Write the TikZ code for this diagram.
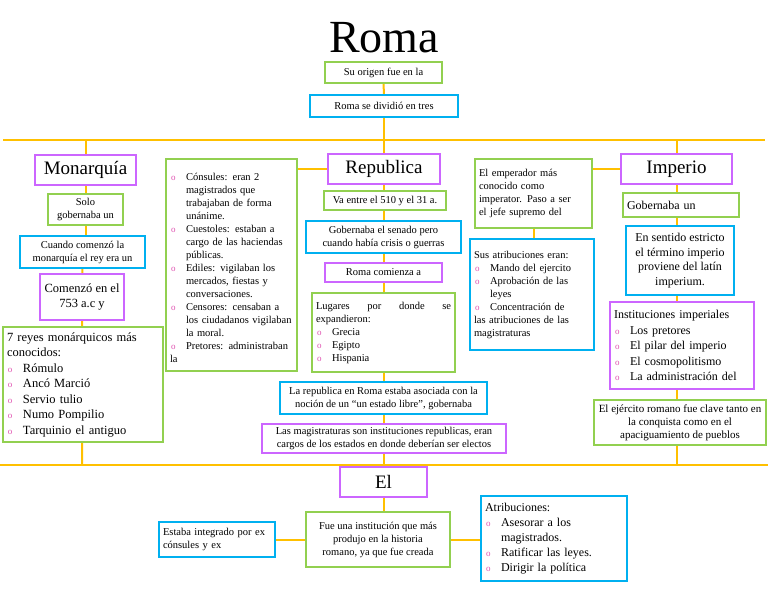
\documentclass[tikz,border=0pt]{standalone}
\usepackage{fontspec}
\usetikzlibrary{backgrounds}
\setmainfont{Liberation Serif}
\definecolor{cg}{HTML}{92D050}
\definecolor{cc}{HTML}{00B0F0}
\definecolor{cp}{HTML}{CC66FF}
\definecolor{co}{HTML}{FFC000}
\definecolor{bul}{HTML}{E050B0}
\newcommand\bitem[1]{\par\noindent\hangindent=16pt\hangafter=1\makebox[16pt][l]{\hspace{1pt}\textcolor{bul}{\fontsize{9}{9}\selectfont o}}#1}
\hyphenpenalty=10000 \exhyphenpenalty=10000
\begin{document}
\begin{tikzpicture}[x=1pt,y=-1pt,
 bx/.style={draw=#1,fill=white,line width=1.5pt,inner sep=3pt,align=center,font=\fontsize{10.5}{13}\selectfont},
 big/.style={font=\fontsize{19}{22}\selectfont},
 ln/.style={draw=co,line width=2pt}]
\useasboundingbox (0,0) rectangle (768,594);
\node (title) at (384,38) {\fontsize{46}{50}\selectfont Roma};
\node[bx=cg,minimum width=117,minimum height=21] (t1) at (383.5,72.5) {Su origen fue en la};
\node[bx=cc,minimum width=148,minimum height=22] (t2) at (384,106) {Roma se dividió en tres};
% Monarquia column
\node[bx=cp,big,minimum width=101,minimum height=30] (mon) at (85.5,170) {Monarquía};
\node[bx=cg,minimum width=75,minimum height=31] (solo) at (85.5,209.5) {Solo\\gobernaba un};
\node[bx=cc,minimum width=125,minimum height=32] (cuando) at (82.5,252) {Cuando comenzó la\\monarquía el rey era un};
\node[bx=cp,minimum width=84,minimum height=46,font=\fontsize{12.5}{15}\selectfont] (comenzo) at (82,297) {Comenzó en el\\753 a.c y};
\node[bx=cg,minimum width=160,minimum height=115,text width=152,align=left,font=\fontsize{12.5}{15.5}\selectfont] (reyes) at (83,384.5) {\raggedright 7 reyes monárquicos más conocidos:
\bitem{Rómulo}\bitem{Ancó Marció}\bitem{Servio tulio}\bitem{Numo Pompilio}\bitem{Tarquinio el antiguo}};
\node[bx=cg,minimum width=131,minimum height=212,text width=123,align=left,font=\fontsize{10.5}{13}\selectfont] (cons) at (231.5,265) {\raggedright\bitem{Cónsules: eran 2 magistrados que trabajaban de forma unánime.}\bitem{Cuestoles: estaban a cargo de las haciendas públicas.}\bitem{Ediles: vigilaban los mercados, fiestas y conversaciones.}\bitem{Censores: censaban a los ciudadanos vigilaban la moral.}\bitem{Pretores: administraban la}};
% Republica column
\node[bx=cp,big,minimum width=112,minimum height=30] (rep) at (384,169) {Republica};
\node[bx=cg,minimum width=122,minimum height=19] (va) at (385,200.5) {Va entre el 510 y el 31 a.};
\node[bx=cc,minimum width=155,minimum height=32] (gob) at (383.5,237) {Gobernaba el senado pero\\cuando había crisis o guerras};
\node[bx=cp,minimum width=117,minimum height=19] (rc) at (383.5,272.5) {Roma comienza a};
\node[bx=cg,minimum width=143,minimum height=79,text width=135,align=justify] (lug) at (383.5,332.5) {Lugares por donde se expandieron:
\bitem{Grecia}\bitem{Egipto}\bitem{Hispania}};
\node[bx=cc,minimum width=207,minimum height=32] (larep) at (383.5,398) {La republica en Roma estaba asociada con la\\noción de un “un estado libre”, gobernaba};
\node[bx=cp,minimum width=244,minimum height=29] (lasmag) at (384,438.5) {Las magistraturas son instituciones republicas, eran\\cargos de los estados en donde deberían ser electos};
\node[bx=cp,big,minimum width=87,minimum height=30] (el) at (383.5,482) {El};
\node[bx=cg,minimum width=144,minimum height=55] (fue) at (378,539.5) {Fue una institución que más\\produjo en la historia\\romano, ya que fue creada};
\node[bx=cc,minimum width=116,minimum height=35,text width=108,align=left] (est) at (217,539.5) {Estaba integrado por ex cónsules y ex};
\node[bx=cc,minimum width=146,minimum height=85,text width=138,align=left,font=\fontsize{12}{15}\selectfont] (atr) at (554,538.5) {\raggedright Atribuciones:
\bitem{Asesorar a los magistrados.}\bitem{Ratificar las leyes.}\bitem{Dirigir la política}};
% Imperio column
\node[bx=cg,minimum width=117,minimum height=69,text width=109,align=left] (emp) at (533.5,193.5) {\raggedright El emperador más conocido como imperator. Paso a ser el jefe supremo del};
\node[bx=cc,minimum width=124,minimum height=111,text width=116,align=left] (sus) at (532,294.5) {\raggedright Sus atribuciones eran:
\bitem{Mando del ejercito}\bitem{Aprobación de las leyes}\bitem{Concentración de las atribuciones de las magistraturas}};
\node[bx=cp,big,minimum width=111,minimum height=30] (imp) at (676.5,169) {Imperio};
\node[bx=cg,minimum width=116,minimum height=24,text width=108,align=left,font=\fontsize{12}{13}\selectfont] (gobun) at (681,205) {Gobernaba un};
\node[bx=cc,minimum width=108,minimum height=69,font=\fontsize{12}{14.5}\selectfont] (ens) at (680,260.5) {En sentido estricto\\el término imperio\\proviene del latín\\imperium.};
\node[bx=cp,minimum width=144,minimum height=87,text width=136,align=left,font=\fontsize{12}{15.5}\selectfont] (inst) at (682,345.5) {\raggedright Instituciones imperiales
\bitem{Los pretores}\bitem{El pilar del imperio}\bitem{El cosmopolitismo}\bitem{La administración del}};
\node[bx=cg,minimum width=172,minimum height=45,font=\fontsize{11}{13}\selectfont] (ejer) at (680,422.5) {El ejército romano fue clave tanto en\\la conquista como en el\\apaciguamiento de pueblos};
% connectors
\coordinate (hl) at (3,140); \coordinate (hr) at (765,140);
\coordinate (hm) at (384,140);
\coordinate (bl) at (0,465); \coordinate (br) at (768,465);
\begin{scope}[on background layer]
\draw[ln] (t1.center) -- (t2.center);
\draw[ln] (t2.center) -- (hm);
\draw[ln] (hl) -- (hr);
\draw[ln] (hl -| mon.center) -- (mon.center);
\draw[ln] (hm) -- (rep.center);
\draw[ln] (hr -| imp.center) -- (imp.center);
\draw[ln] (mon.center) -- (solo.center) -- (cuando.center -| solo.center);
\draw[ln] (cuando.center) -- (comenzo.center) -- (reyes.center -| comenzo.center) -- (bl -| comenzo.center);
\draw[ln] (rep.center) -- (va.center -| rep.center) -- (gob.center -| rep.center) -- (rc.center -| rep.center) -- (lug.center -| rep.center) -- (larep.center -| rep.center) -- (lasmag.center -| rep.center) -- (el.center -| rep.center) -- (fue.center -| rep.center);
\draw[ln] (bl) -- (br);
\draw[ln] (cons.center |- rep.center) -- (rep.center);
\draw[ln] (emp.center |- imp.center) -- (imp.center);
\draw[ln] (emp.center) -- (sus.center -| emp.center);
\draw[ln] (imp.center) -- (gobun.center -| imp.center) -- (ens.center -| imp.center) -- (inst.center -| imp.center) -- (ejer.center -| imp.center) -- (br -| imp.center);
\draw[ln] (est.center) -- (fue.center) -- (fue.center -| atr.center);
\end{scope}
\end{tikzpicture}
\end{document}
